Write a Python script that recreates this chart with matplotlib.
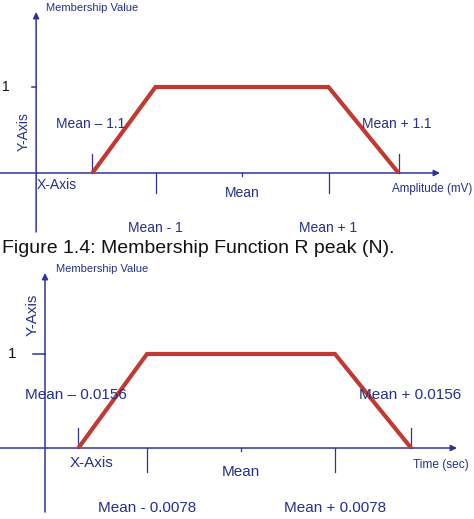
import matplotlib
matplotlib.use("Agg")
import matplotlib.pyplot as plt

# ---- data ----
mf_x = [-1.73, -1.0, 1.0, 1.81]        # trapezoid break points (schematic units)
mf_y = [0.0, 1.0, 1.0, 0.0]            # membership values
tick_pos = [-1.73, -1.0, 0.0, 1.0, 1.81]
top_labels = ["Mean \u2013 1.1", "Mean - 1", "Mean", "Mean + 1", "Mean + 1.1"]
bot_labels = ["Mean \u2013 0.0156", "Mean - 0.0078", "Mean", "Mean + 0.0078", "Mean + 0.0156"]
top_xlabel = "Amplitude (mV)"
bot_xlabel = "Time (sec)"
ylabel_top = "Membership Value"
caption = "Figure 1.4: Membership Function R peak (N)."

plt.rcParams['font.family'] = ['Liberation Sans', 'DejaVu Sans']

W, H = 474, 519
fig = plt.figure(figsize=(W / 100, H / 100), dpi=100)

TEXT = "#24308c"
AXC = "#30349a"
RED = "#c03a32"


def panel(rect, xlim, ylim, lay, labels, xlabel, fs):
    ax = fig.add_axes(rect)
    ax.set_xlim(*xlim)
    ax.set_ylim(*ylim)
    ax.axis("off")
    yx = lay["yaxis_x"]
    # axes lines with arrows
    ax.annotate("", xy=(lay["xtip"], 0), xytext=(xlim[0], 0),
                arrowprops=dict(arrowstyle="-|>", color=AXC, lw=1.1,
                                mutation_scale=9, shrinkA=0, shrinkB=0))
    ax.annotate("", xy=(yx, lay["ytip"]), xytext=(yx, lay["ybot"]),
                arrowprops=dict(arrowstyle="-|>", color=AXC, lw=1.1,
                                mutation_scale=9, shrinkA=0, shrinkB=0))
    # y tick "1"
    ax.plot([yx - lay["ytick_len"], yx], [1, 1], color=AXC, lw=1.1)
    ax.text(lay["one_x"], 1, "1", color="#111111", fontsize=fs, ha="center", va="center")
    # x ticks
    for i, p in enumerate(tick_pos):
        if i in (0, 4):
            ax.plot([p, p], [0, lay["up_tick"]], color=AXC, lw=0.9)
        elif i == 2:
            ax.plot([p, p], [0, -0.035], color=AXC, lw=0.9)
        else:
            ax.plot([p, p], [0, -lay["down_tick"]], color=AXC, lw=0.9)
    # membership function
    ax.plot(mf_x, mf_y, color=RED, lw=3.0, solid_joinstyle="miter",
            solid_capstyle="butt", zorder=5)
    # labels
    ax.text(lay["mv"][0], lay["mv"][1], ylabel_top, color=TEXT, fontsize=8.0,
            ha="left", va="center")
    ax.text(lay["yax"][0], lay["yax"][1], "Y-Axis", color=TEXT, fontsize=fs,
            rotation=90, ha="center", va="center")
    ax.text(lay["xax"][0], lay["xax"][1], "X-Axis", color=TEXT, fontsize=fs,
            ha="left", va="center")
    ax.text(lay["lbl0"][0], lay["lbl0"][1], labels[0], color=TEXT, fontsize=fs,
            ha="left", va="center", zorder=6)
    ax.text(lay["lbl4"][0], lay["lbl4"][1], labels[4], color=TEXT, fontsize=fs,
            ha="left", va="center", zorder=6)
    ax.text(tick_pos[2], lay["mean_y"], labels[2], color=TEXT, fontsize=fs,
            ha="center", va="center")
    for i in (1, 3):
        ax.text(tick_pos[i], lay["low_y"], labels[i], color=TEXT, fontsize=fs,
                ha="center", va="center")
    ax.text(lay["xl"][0], lay["xl"][1], xlabel, color=TEXT, fontsize=lay["xl_fs"],
            ha="left", va="center")
    return ax


# top panel: origin at px (242,173), 86.5 px per x unit, 86 px per y unit
top_lay = dict(yaxis_x=-2.38, xtip=2.289, ytip=1.872, ybot=-0.686, ytick_len=0.05,
               one_x=-2.73, up_tick=0.22, down_tick=0.233,
               mv=(-2.266, 1.919), yax=(-2.52, 0.477), xax=(-2.37, -0.14),
               lbl0=(-2.15, 0.57), lbl4=(1.387, 0.57), mean_y=-0.233, low_y=-0.64,
               xl=(1.734, -0.186), xl_fs=8.4)
panel([0, 1 - 240 / H, 1, 240 / H], ((0 - 242) / 86.5, (474 - 242) / 86.5),
      ((173 - 240) / 86, 173 / 86), top_lay, top_labels, top_xlabel, 10)

# bottom panel: origin at px (241,448), 94 px per unit
bot_lay = dict(yaxis_x=-2.085, xtip=2.298, ytip=1.862, ybot=-0.681, ytick_len=0.128,
               one_x=-2.436, up_tick=0.21, down_tick=0.255,
               mv=(-1.968, 1.904), yax=(-2.213, 1.415), xax=(-1.819, -0.16),
               lbl0=(-2.298, 0.564), lbl4=(1.255, 0.564), mean_y=-0.255, low_y=-0.638,
               xl=(1.83, -0.181), xl_fs=8.6)
panel([0, 0, 1, 259 / H], ((0 - 241) / 94, (474 - 241) / 94),
      ((448 - 519) / 94, (448 - 260) / 94), bot_lay, bot_labels, bot_xlabel, 11)

fig.text(2 / W, 1 - 249 / H, caption, fontsize=14, color="#111111",
         ha="left", va="center")

fig.savefig("out.png", dpi=100, facecolor="white")
